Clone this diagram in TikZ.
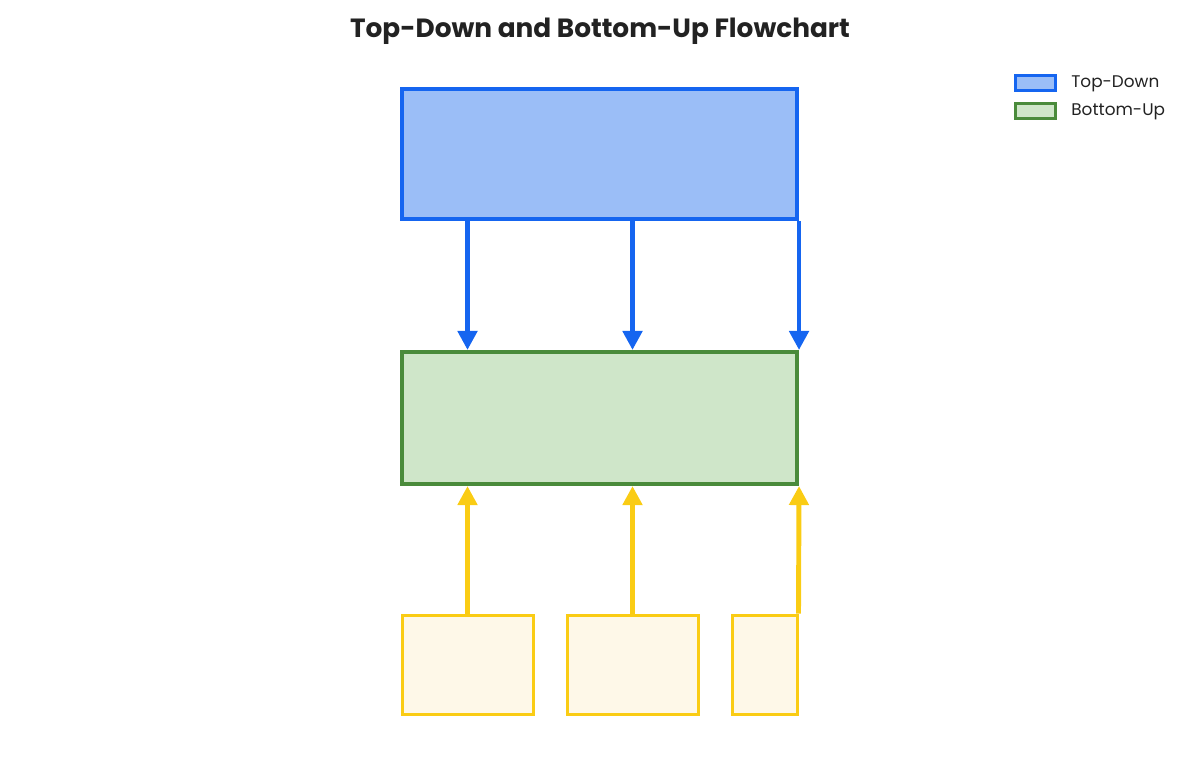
\documentclass[tikz,border=0pt]{standalone}
\usepackage{fontspec}
\setmainfont{Poppins}
\usetikzlibrary{arrows.meta,positioning}
\definecolor{tdline}{RGB}{21,101,240}
\definecolor{tdfill}{RGB}{155,190,247}
\definecolor{buline}{RGB}{74,139,59}
\definecolor{bufill}{RGB}{207,230,201}
\definecolor{partline}{RGB}{250,204,20}
\definecolor{partfill}{RGB}{254,248,232}
\definecolor{titlegray}{RGB}{34,34,34}

\begin{document}
\begin{tikzpicture}[node distance=5.28cm,on grid,
  box/.style={rectangle,inner sep=0pt},
  topdown/.style={box,draw=tdline,fill=tdfill,line width=2.3pt,minimum width=7.9cm},
  bottomup/.style={box,draw=buline,fill=bufill,line width=2.3pt,minimum width=7.9cm},
  part/.style={box,draw=partline,fill=partfill,line width=1.7pt,minimum height=1.98cm},
  tdkey/.style={box,draw=tdline,fill=tdfill,line width=1.7pt,minimum width=0.8cm,minimum height=0.3cm},
  bukey/.style={box,draw=buline,fill=bufill,line width=1.7pt,minimum width=0.8cm,minimum height=0.3cm},
  keylabel/.style={anchor=west,inner sep=0pt,font=\fontsize{9.6}{12}\selectfont,text=titlegray},
  tdarrow/.style={color=tdline,line width=2.8pt,-{Triangle[length=0.38cm,width=0.38cm]}},
  buarrow/.style={color=partline,line width=2.8pt,-{Triangle[length=0.38cm,width=0.38cm]}}]
  \useasboundingbox (0,0) rectangle (24,-15.26);

  \node[font=\bfseries\fontsize{15}{18}\selectfont,text=titlegray] (title) at (12,-0.63) {Top-Down and Bottom-Up Flowchart};

  \node[topdown,minimum height=2.6cm] (top) at (11.99,-3.08) {};
  \node[bottomup,minimum height=2.64cm] (mid) [below = of top] {};

  \node[part,minimum width=2.62cm] (b1) at (9.35,-13.29) {};
  \node[part,minimum width=2.62cm] (b2) [right = 3.3cm of b1] {};
  \node[part,minimum width=1.3cm] (b3) [right = 2.64cm of b2] {};

  % legend
  \node[tdkey] (keytd) at (20.71,-1.65) {};
  \node[bukey] (keybu) [below = 0.56cm of keytd] {};
  \node[keylabel] (labtd) at (21.42,-1.67) {Top-Down};
  \node[keylabel] (labbu) at (21.42,-2.23) {Bottom-Up};

  \path
  (top.south -| b1) edge[tdarrow] (mid.north -| b1)
  (top.south -| b2) edge[tdarrow] (mid.north -| b2)
  (top.south east) edge[tdarrow] (mid.north east);
  \path
  (b1.north) edge[buarrow] (mid.south -| b1)
  (b2.north) edge[buarrow] (mid.south -| b2)
  (b3.north east) edge[buarrow] (mid.south east);
\end{tikzpicture}
\end{document}
